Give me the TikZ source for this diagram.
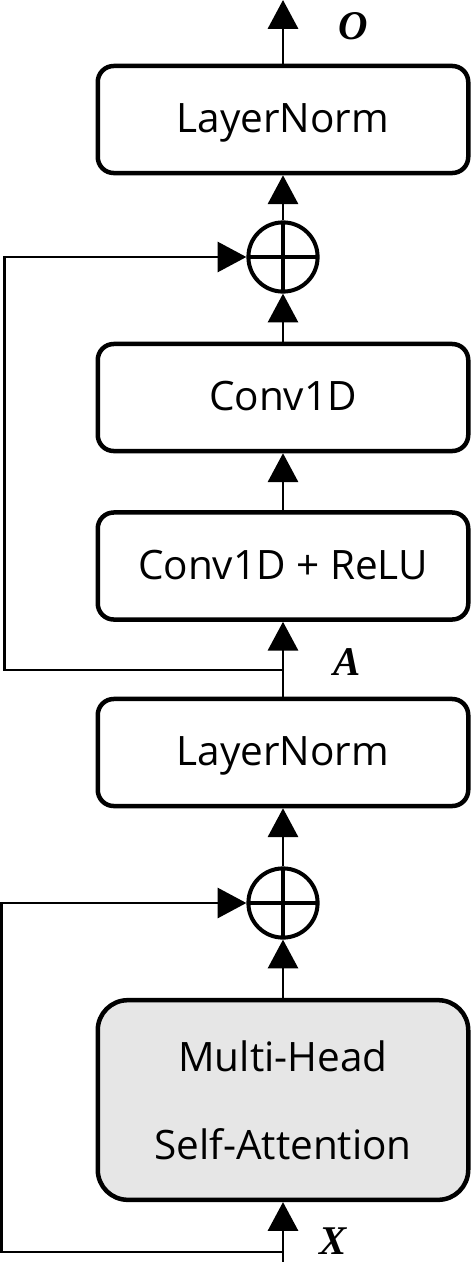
\documentclass[tikz,border=0pt]{standalone}
\usepackage{fontspec}
\setmainfont{Open Sans}
\newfontfamily\varfont{Liberation Serif}
\usetikzlibrary{arrows.meta}
\definecolor{mhsagray}{HTML}{E6E6E6}
\begin{document}
    \begin{tikzpicture}[x=0.025cm,y=-0.025cm,
        block/.style={draw,rounded corners=0.4cm,line width=3.2pt,minimum width=9.26cm,minimum height=2.675cm,inner sep=0pt,font=\fontsize{28.8}{34}\selectfont,text height=19pt,text depth=0pt},
        mhsa/.style={draw,fill=mhsagray,rounded corners=0.75cm,line width=3.2pt,minimum width=9.26cm,minimum height=4.99cm,inner sep=0pt,align=center,font=\fontsize{28.8}{62.6}\selectfont},
        addop/.style={circle,draw,line width=2.85pt,minimum size=1.73cm,inner sep=0pt,path picture={\draw[line width=2.4pt] (path picture bounding box.north)--(path picture bounding box.south) (path picture bounding box.west)--(path picture bounding box.east);}},
        arr/.style={line width=2.1pt,-{Triangle[length=0.72cm,width=0.75cm]}},
        var/.style={font=\fontsize{29}{33}\selectfont\varfont\bfseries\itshape,inner sep=0pt}]
        \useasboundingbox (0,0) rectangle (473,1262);
        \node[block] (ln2) at (283,119.5) {LayerNorm};
        \node[block] (conv) at (283,397.5) {Conv1D};
        \node[block] (relu) at (283,566) {Conv1D + ReLU};
        \node[block] (ln1) at (283,752.5) {LayerNorm};
        \node[mhsa] (att) at (283,1100) {Multi-Head\\Self-Attention};
        \node[addop] (add2) at (283,257) {};
        \node[addop] (add1) at (283,903) {};
        \coordinate (out) at (283,0);
        \coordinate (A) at (283,670);
        \coordinate (skipA) at (4.5,670);
        \coordinate (in) at (283,1262);
        \coordinate (X) at (283,1252);
        \coordinate (skipX) at (1.5,1252);
        \draw[arr] (ln2.north)--(out);
        \draw[arr] (add2.north)--(ln2.south);
        \draw[arr] (conv.north)--(add2.south);
        \draw[arr] (relu.north)--(conv.south);
        \draw[arr] (ln1.north)--(relu.south);
        \draw[arr] (A)--(skipA)|-(add2.west);
        \draw[arr] (add1.north)--(ln1.south);
        \draw[arr] (att.north)--(add1.south);
        \draw[arr] (in)--(att.south);
        \draw[arr] (X)--(skipX)|-(add1.west);
        \node[var] (o) at (353,26) {O};
        \node[var] (a) at (347,662) {A};
        \node[var] (x) at (333,1241) {X};
    \end{tikzpicture}
\end{document}
